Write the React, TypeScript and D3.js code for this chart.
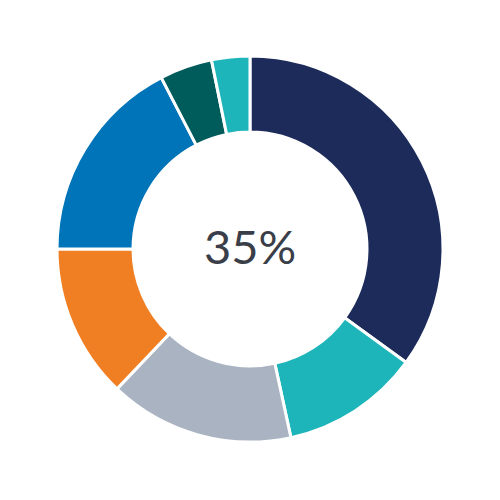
import { useMemo } from 'react';
import * as d3 from 'd3';

const LABELS = ['A', 'B', 'C', 'D', 'E', 'F', 'G'];
const VALUES = [35, 11.6, 15.5, 12.9, 17.4, 4.4, 3.2];
const COLORS = ['#1c2b5a', '#1db5b9', '#a9b3c1', '#f07e22', '#0074b8', '#005b5b', '#1db5b9'];
const CENTER_LABEL = '35%';

const W = 500;
const H = 500;
const CX = 250;
const CY = 249;
const OUTER = 193;
const INNER = 117;

export default function App() {
  const arcs = useMemo(() => {
    const pie = d3
      .pie<number>()
      .sort(null)
      .value(d => d);
    return pie(VALUES);
  }, []);

  const arc = d3.arc<d3.PieArcDatum<number>>().innerRadius(INNER).outerRadius(OUTER);

  return (
    <svg width={W} height={H} style={{ position: 'absolute', left: 0, top: 0 }}>
      <rect width={W} height={H} fill="#ffffff" />
      <g transform={`translate(${CX},${CY})`}>
        {arcs.map((a, i) => (
          <path
            key={LABELS[i]}
            d={arc(a) ?? ''}
            fill={COLORS[i]}
            stroke="#ffffff"
            strokeWidth={3}
            strokeLinejoin="miter"
          />
        ))}
        <text
          x={0}
          y={15}
          textAnchor="middle"
          fontFamily="Lato, 'Open Sans', sans-serif"
          fontWeight={400}
          fontSize={47}
          fill="#3a3e48"
        >
          {CENTER_LABEL}
        </text>
      </g>
    </svg>
  );
}
